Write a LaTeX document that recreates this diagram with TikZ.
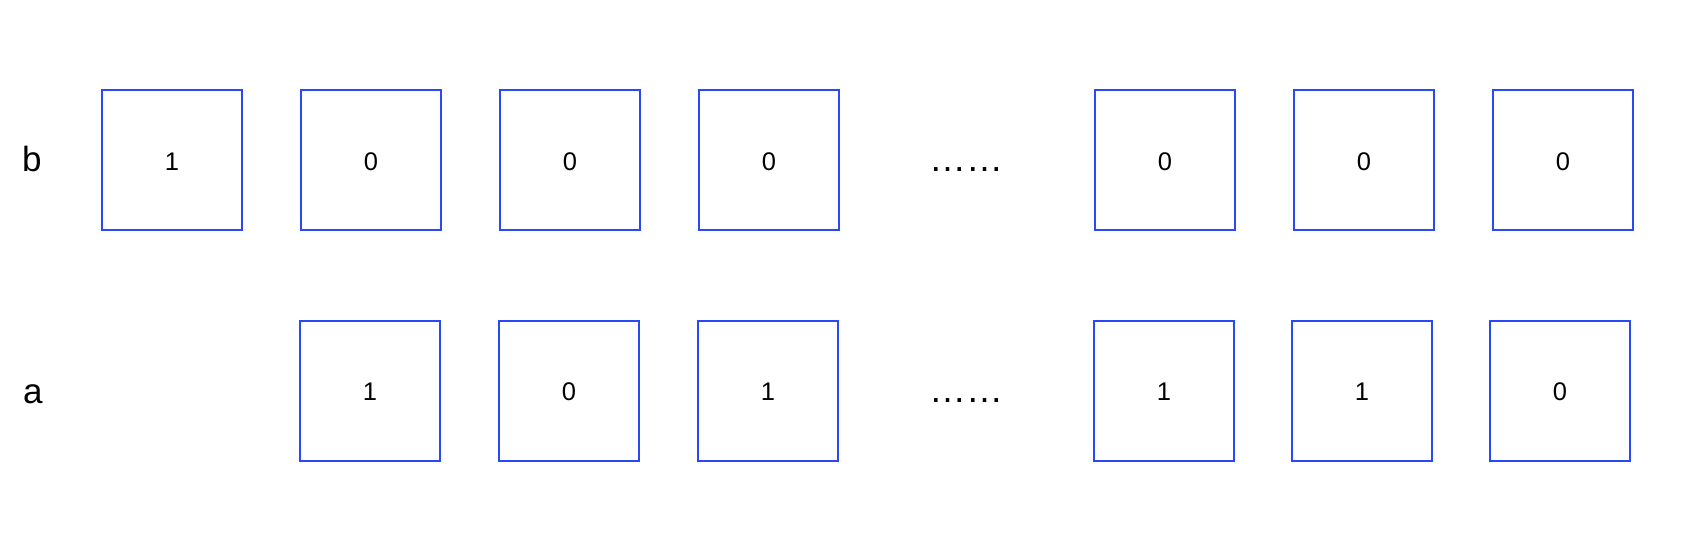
\documentclass[tikz,border=0pt]{standalone}
\usepackage{fontspec}
\setmainfont{Liberation Sans}
\definecolor{boxblue}{RGB}{40,72,250}
\begin{document}
\begin{tikzpicture}[x=1pt,y=-1pt,
  cell/.style={draw=boxblue,line width=1.8pt,minimum size=140pt,inner sep=0pt},
  digit/.style={anchor=base,inner sep=0pt,font=\fontsize{25.5}{28}\selectfont},
  rowlabel/.style={anchor=base west,inner sep=0pt,font=\fontsize{35}{40}\selectfont},
  dots/.style={anchor=base,inner sep=0pt,font=\fontsize{37}{40}\selectfont}]
\useasboundingbox[fill=white] (0,0) rectangle (1704,538);
% row labels
\node[rowlabel] (lb) at (22,171.7) {b};
\node[rowlabel] (la) at (23,403.3) {a};
% row b
\foreach \n/\x/\v in {1/172/1,2/371/0,3/570/0,4/769/0,5/1165/0,6/1364/0,7/1563/0}{
  \node[cell] (b\n) at (\x,160) {};
  \node[digit] (bd\n) at (\x,170.5) {\v};
}
% row a
\foreach \n/\x/\v in {1/370/1,2/569/0,3/768/1,4/1164/1,5/1362/1,6/1560/0}{
  \node[cell] (a\n) at (\x,390.7) {};
  \node[digit] (ad\n) at (\x,400.8) {\v};
}
% ellipses
\node[dots] (db) at (966,171.5) {……};
\node[dots] (da) at (966,402) {……};
\end{tikzpicture}
\end{document}
